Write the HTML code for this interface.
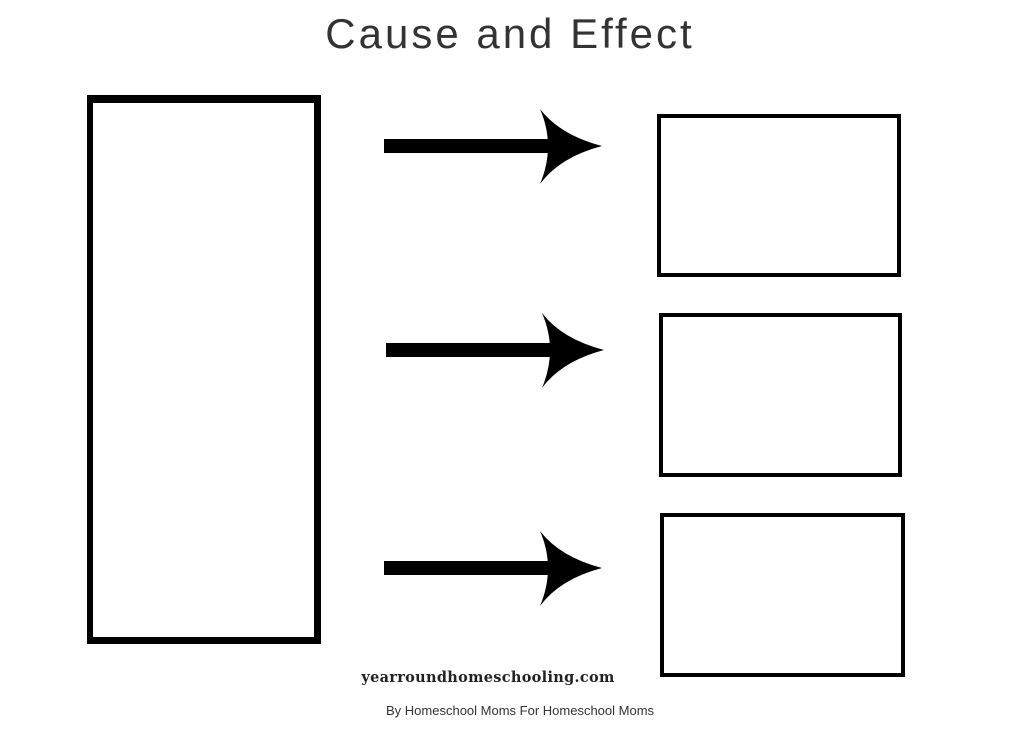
<!DOCTYPE html>
<html><head><style>
body{margin:0;width:1024px;height:731px;background:#fff;position:relative;overflow:hidden;font-family:"Liberation Sans",sans-serif}
.b{position:absolute;border:solid #000;box-sizing:border-box}
.t{position:absolute;text-align:center;white-space:nowrap}
</style></head><body>
<div class="t" style="left:0;width:1020px;top:10px;font-size:42px;font-weight:normal;letter-spacing:3px;color:#333">Cause and Effect</div>
<div class="b" style="left:87px;top:95px;width:234px;height:549px;border-width:8px 7px 7px 6px"></div>
<div class="b" style="left:657px;top:114px;width:244px;height:163px;border-width:4px"></div>
<div class="b" style="left:659px;top:313px;width:243px;height:164px;border-width:4px"></div>
<div class="b" style="left:660px;top:513px;width:245px;height:164px;border-width:4px"></div>
<svg width="1024" height="731" style="position:absolute;left:0;top:0">
<g fill="#000">
<rect x="384" y="139" width="170" height="14"/>
<path d="M540,109 Q560,135 602,146 Q560,157 540,184 Q556,146 540,109Z"/>
<rect x="386" y="343" width="170" height="14"/>
<path d="M542,313 Q562,339 604,350 Q562,361 542,388 Q558,350 542,313Z"/>
<rect x="384" y="561" width="170" height="14"/>
<path d="M540,531 Q560,557 602,568 Q560,579 540,606 Q556,568 540,531Z"/>
</g></svg>
<div class="t" style="left:358px;width:260px;top:669px;font-size:14.5px;font-weight:bold;color:#222;letter-spacing:0.3px;font-family:'DejaVu Serif',serif">yearroundhomeschooling.com</div>
<div class="t" style="left:386px;width:232px;top:703px;font-size:13px;color:#333">By Homeschool Moms For Homeschool Moms</div>
</body></html>
